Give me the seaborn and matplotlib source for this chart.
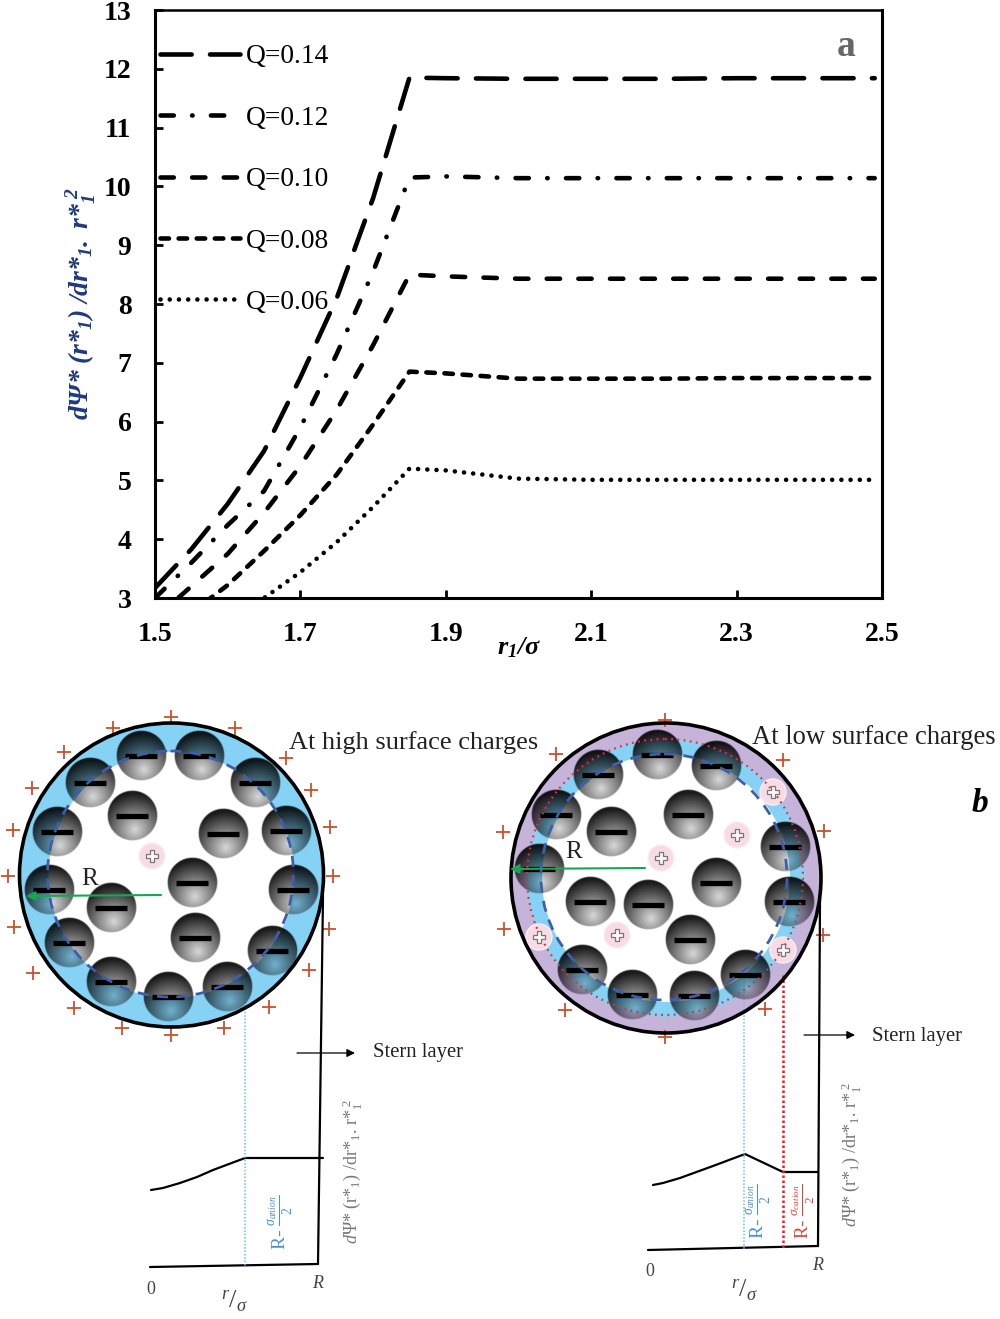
import numpy as np
import pandas as pd
import matplotlib
matplotlib.use("Agg")
import matplotlib.pyplot as plt
from matplotlib.patches import Circle, Wedge
import seaborn as sns

# panel a data
r_sigma = [1.5, 1.55, 1.6, 1.65, 1.7, 1.75, 1.8, 1.85, 1.9, 2.0, 2.1, 2.2, 2.3, 2.4, 2.49]
q014 = [3.17, 3.83, 4.6, 5.5, 6.75, 8.1, 9.8, 11.85, 11.84, 11.83, 11.83, 11.83, 11.84, 11.84, 11.84]
q012 = [3.0, 3.6, 4.24, 4.82, 5.9, 7.15, 8.55, 10.15, 10.17, 10.14, 10.14, 10.14, 10.14, 10.14, 10.14]
q010 = [2.65, 3.2, 3.75, 4.45, 5.25, 6.2, 7.3, 8.5, 8.47, 8.43, 8.43, 8.43, 8.43, 8.43, 8.43]
q008 = [np.nan, 2.75, 3.22, 3.8, 4.41, 5.1, 5.95, 6.85, 6.82, 6.73, 6.73, 6.73, 6.74, 6.74, 6.74]
q006 = [np.nan, np.nan, 2.55, 3.0, 3.44, 3.95, 4.55, 5.2, 5.17, 5.03, 5.01, 5.01, 5.01, 5.01, 5.01]
q_labels = ["Q=0.14", "Q=0.12", "Q=0.10", "Q=0.08", "Q=0.06"]
q_dashes = [(6.8, 4.0), (2.9, 4.0, 0.1, 4.0), (2.9, 4.0), (1.85, 2.1), (0.01, 2.0)]
x_ticks = [1.5, 1.7, 1.9, 2.1, 2.3, 2.5]
y_ticks = list(range(3, 14))

# schematic, picture pixels
left_outer = [(141, 756), (199, 756), (255, 783), (286, 831), (293, 890), (272, 951), (227, 987),
              (168, 997), (111, 982), (69, 943), (49, 890), (57, 832), (90, 783)]
left_inner = [(132, 816), (223, 834), (192, 883), (111, 908), (195, 938)]
left_ions = [(152, 856)]
left_plus = [(171, 717), (235, 728), (286, 758), (311, 790), (330, 827), (333, 876), (329, 929), (309, 970),
             (269, 1007), (224, 1028), (171, 1035), (122, 1028), (74, 1008), (33, 973), (14, 927), (8, 876),
             (13, 830), (32, 788), (64, 752), (113, 728)]
right_outer = [(657, 755), (716, 766), (785, 847), (789, 902), (745, 975), (694, 996), (632, 995),
               (582, 970), (539, 869), (556, 815), (598, 775)]
right_inner = [(688, 815), (611, 832), (716, 883), (590, 902), (648, 905), (690, 940)]
right_ions = [(773, 792), (737, 835), (661, 858), (783, 950), (617, 935), (539, 937)]
right_plus = [(665, 720), (556, 754), (783, 760), (824, 831), (503, 832), (504, 929), (823, 935), (565, 1010),
              (765, 1009), (665, 1037)]

left_curve_x = [151, 163, 180, 197, 213, 245, 323]
left_curve_y = [1190, 1188, 1183, 1177, 1170, 1158, 1158]
right_curve_x = [653, 663, 680, 713, 745, 783, 818]
right_curve_y = [1185, 1183, 1178, 1166, 1154, 1172, 1172]

sns.set_theme(style="white")
plt.rcParams["font.family"] = ["Liberation Serif", "DejaVu Serif"]
plt.rcParams["mathtext.fontset"] = "custom"
plt.rcParams["mathtext.rm"] = "Liberation Serif"
plt.rcParams["mathtext.it"] = "Liberation Serif:italic"
plt.rcParams["mathtext.bf"] = "Liberation Serif:bold"
plt.rcParams["mathtext.bfit"] = "Liberation Serif:italic:bold"

W, H = 1000, 1319
fig = plt.figure(figsize=(W / 100, H / 100), dpi=100, facecolor="white")
ax = fig.add_axes([155 / W, 1 - 598 / H, 727 / W, 588 / H])

series = [q014, q012, q010, q008, q006]
for vals, lab, dash in zip(series, q_labels, q_dashes):
    df = pd.DataFrame({"r": r_sigma, "v": vals}).dropna()
    sns.lineplot(data=df, x="r", y="v", ax=ax, color="black", linewidth=3.3, label=lab,
                 linestyle=(0, dash), dash_capstyle="round", estimator=None, sort=False)

ax.set_xlim(1.5, 2.5)
ax.set_ylim(3, 13)
ax.set_xticks(x_ticks)
ax.set_yticks(y_ticks)
ax.set_xticklabels([f"{t:.1f}" for t in x_ticks], fontweight="bold", fontsize=20)
ax.set_yticklabels([str(t) for t in y_ticks], fontweight="bold", fontsize=20)
ax.tick_params(direction="in", length=6, width=2, color="black", pad=17, labelcolor="black", left=True, bottom=True)
for s in ax.spines.values():
    s.set_visible(True)
    s.set_linewidth(2.2)
    s.set_color("black")
ax.spines["top"].set_linewidth(1.8)

ax.set_xlabel(r"$\mathbfit{r}_{\mathbfit{1}}\mathbfit{/\sigma}$", fontsize=19, color="black")
ax.xaxis.set_label_coords((519 - 155) / 727, -37 / 588)
ax.set_ylabel(r"$\mathbfit{d\Psi{*}\ (r{*}_{1})\ /dr{*}_{1}.\ r{*}_{1}^{\ 2}}$", fontsize=20, color="#1f3a7d")
ax.yaxis.set_label_coords((98 - 155) / 727, (598 - 304) / 588)
ax.text((846 - 155) / 727, (598 - 46) / 588, "a", transform=ax.transAxes, fontsize=27, fontweight="bold",
        color="#666666", ha="center", va="center")

leg = ax.legend(loc="upper left", bbox_to_anchor=(5 / 727, (598 - 44) / 588), frameon=False, fontsize=19.8,
                handlelength=2.91, handletextpad=0.22, labelspacing=1.316, borderpad=0, borderaxespad=0,
                labelcolor="black")

# overlay for panel b, in picture pixels
ov = fig.add_axes([0, 0, 1, 1], zorder=5)
ov.patch.set_alpha(0)
ov.axis("off")

# shading for one sphere: black with varying alpha so what is under it shows through
n = 120
yy, xx = np.mgrid[-1:1:n * 1j, -1:1:n * 1j]
dist = np.hypot(xx, yy)
shade = np.clip(0.16 + 0.52 * np.hypot(xx - 0.1, yy - 0.55), 0, 0.9)
sphere = np.zeros((n, n, 4))
sphere[..., 3] = shade * np.clip((1 - dist) * 25, 0, 1)


def draw_spheres(points, r=25.5):
    for x, y in points:
        ov.imshow(sphere, extent=(x - r, x + r, y + r, y - r), aspect="auto", interpolation="bilinear", zorder=3)
    xs = np.array([p[0] for p in points])
    ys = np.array([p[1] for p in points])
    ov.hlines(ys, xs - 16, xs + 16, color="black", linewidth=3.8, zorder=4)


def draw_ions(points):
    for x, y in points:
        ov.add_patch(Circle((x, y), 13, fc="#f8dbe4", ec="#fbeef2", lw=1, zorder=5))
        ov.plot(x, y, marker="P", ms=9, mfc="#fdf5f7", mec="#777777", mew=0.9, zorder=6)


def draw_plus(points):
    xs = [p[0] for p in points]
    ys = [p[1] for p in points]
    ov.plot(xs, ys, ls="none", marker="+", ms=10.5, mew=1.3, color="#c9502e", zorder=2)


# left sphere
lc = (171.5, 875)
ov.add_patch(Wedge(lc, 152, 0, 360, width=29, fc="#86d2f4", ec="none", zorder=1))
draw_spheres(left_outer)
draw_spheres(left_inner)
draw_ions(left_ions)
draw_plus(left_plus)
ov.add_patch(Circle((170.5, 874), 123, fc="none", ec="#3f5ea8", lw=2, ls=(0, (4, 3)), zorder=5))
ov.add_patch(Circle(lc, 152, fc="none", ec="black", lw=2.6, zorder=6))

# right sphere
rc = (666, 878)
ov.add_patch(Wedge(rc, 155, 0, 360, width=17, fc="#c6b3da", ec="none", zorder=1))
ov.add_patch(Wedge(rc, 139, 0, 360, width=15, fc="#86d2f4", ec="none", zorder=1))
draw_spheres(right_outer)
draw_spheres(right_inner)
draw_ions(right_ions)
draw_plus(right_plus)
ov.add_patch(Circle((664, 877), 123, fc="none", ec="#3f5ea8", lw=2, ls=(0, (4, 3)), zorder=5))
ov.add_patch(Circle((665, 877), 138, fc="none", ec="#e0303a", lw=1.6, ls=(0, (0.8, 2)), zorder=5))
ov.add_patch(Circle(rc, 155, fc="none", ec="black", lw=2.6, zorder=6))

# radius arrows
arrow_green = dict(arrowstyle="-|>", color="#18a655", lw=1.5, mutation_scale=13, shrinkA=0, shrinkB=0)
ov.annotate("", xy=(26, 896), xytext=(161, 895), arrowprops=arrow_green, zorder=7)
ov.annotate("", xy=(510, 869), xytext=(645, 868), arrowprops=arrow_green, zorder=7)
ov.text(90, 879, "R", fontsize=18, ha="center", va="center", color="#222222", zorder=7)
ov.text(574, 852, "R", fontsize=18, ha="center", va="center", color="#222222", zorder=7)

# stern layer arrows
arrow_k = dict(arrowstyle="-|>", color="black", lw=0.9, mutation_scale=12, shrinkA=0, shrinkB=0)
ov.annotate("", xy=(355, 1053), xytext=(297, 1053), arrowprops=arrow_k)
ov.annotate("", xy=(855, 1035), xytext=(804, 1035), arrowprops=arrow_k)
ov.text(373, 1053, "Stern layer", fontsize=14.9, va="center", color="#222222")
ov.text(872, 1036, "Stern layer", fontsize=14.9, va="center", color="#222222")

# titles
ov.text(289, 743, "At high surface charges", fontsize=19, va="center", color="#222222")
ov.text(752, 737, "At low surface charges", fontsize=19.2, va="center", color="#222222")
ov.text(980, 804, "b", fontsize=24, fontweight="bold", style="italic", ha="center", va="center", color="black")

# potential sketches
ov.plot(left_curve_x, left_curve_y, color="black", lw=1.6)
ov.plot(right_curve_x, right_curve_y, color="black", lw=1.6)
ov.plot([150, 318], [1267, 1264], color="black", lw=1.6)
ov.plot([648, 818], [1250, 1246], color="black", lw=1.6)
ov.plot([323, 318], [895, 1264], color="black", lw=1.6)
ov.plot([820, 818], [900, 1246], color="black", lw=1.6)
ov.plot([245, 245], [985, 1266], color="#5fc4e4", lw=1.1, ls=(0, (1, 1.2)))
ov.plot([744, 744], [975, 1249], color="#5fc4e4", lw=1.1, ls=(0, (1, 1.2)))
ov.plot([783, 783], [975, 1248], color="#ee1c25", lw=1.8, ls=(0, (1, 1)))

ov.text(281, 1222, r"R- $\frac{\sigma_{anion}}{2}$", rotation=90, fontsize=14, color="#4a8fd0", ha="center", va="center")
ov.text(759, 1211, r"R- $\frac{\sigma_{anion}}{2}$", rotation=90, fontsize=14, color="#4a8fd0", ha="center", va="center")
ov.text(803, 1211, r"R- $\frac{\sigma_{cation}}{2}$", rotation=90, fontsize=13.5, color="#e0403a", ha="center", va="center")

dpsi = r"$d\Psi$* (r*$_{1}$) /dr*$_{1}$. r*$_{1}^{\ 2}$"
ov.text(352, 1172, dpsi, rotation=90, fontsize=13, color="#777777", ha="center", va="center")
ov.text(851, 1155, dpsi, rotation=90, fontsize=13, color="#777777", ha="center", va="center")

ov.text(151, 1289, "0", fontsize=13, color="#444444", ha="center", va="center")
ov.text(650, 1271, "0", fontsize=13, color="#444444", ha="center", va="center")
ov.text(318, 1283, "R", fontsize=13, style="italic", color="#444444", ha="center", va="center")
ov.text(818, 1265, "R", fontsize=13, style="italic", color="#444444", ha="center", va="center")
ov.text(235, 1301, r"$^{r}/_{\sigma}$", fontsize=19, color="#444444", ha="center", va="center")
ov.text(745, 1290, r"$^{r}/_{\sigma}$", fontsize=19, color="#444444", ha="center", va="center")

ov.set_xlim(0, W)
ov.set_ylim(H, 0)

fig.savefig("out.png", dpi=100)
